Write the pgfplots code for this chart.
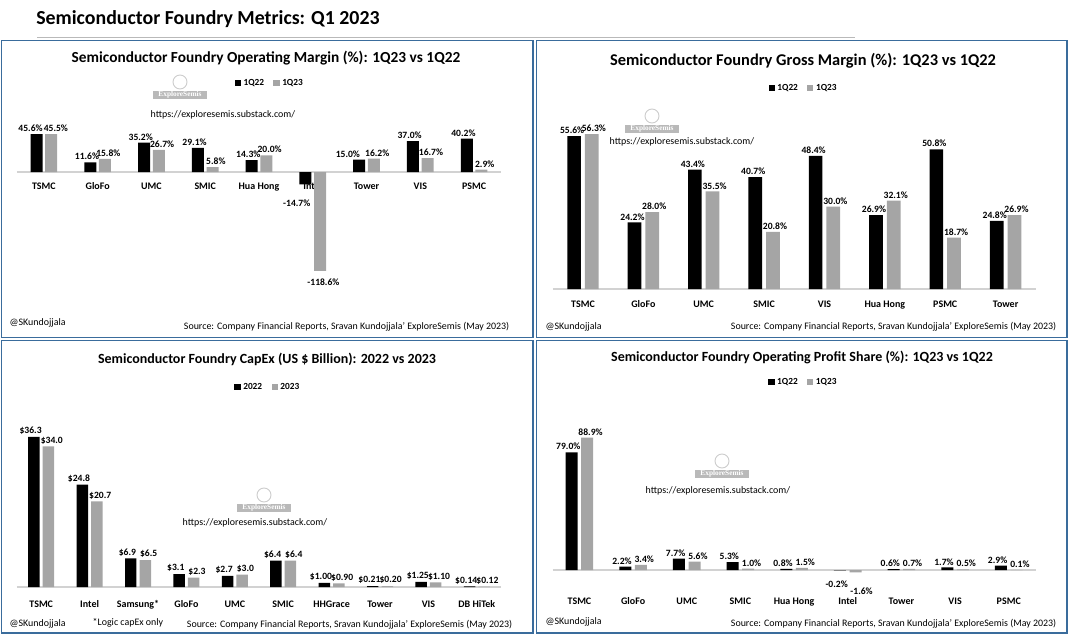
\documentclass[border=0pt]{standalone}
\usepackage{fontspec}
\setmainfont{Carlito}
\newfontfamily\logofont{Liberation Serif}
\usepackage{pgfplots}
\usepackage{pgfplotstable}
\pgfplotsset{compat=1.18}

\definecolor{bargray}{RGB}{165,165,165}
\definecolor{frameblue}{RGB}{58,108,156}

% operating margin 1Q22 / 1Q23
\pgfplotstableread{
x a b
0 45.6 45.5
1 11.6 15.8
2 35.2 26.7
3 29.1 5.8
4 14.3 20.0
5 -14.7 -118.6
6 15.0 16.2
7 37.0 16.7
8 40.2 2.9
}\opmargin

% gross margin
\pgfplotstableread{
x a b
0 55.6 56.3
1 24.2 28.0
2 43.4 35.5
3 40.7 20.8
4 48.4 30.0
5 26.9 32.1
6 50.8 18.7
7 24.8 26.9
}\grossmargin

% capex 2022 / 2023
\pgfplotstableread{
x a b la lb
0 36.3 34.0 36.3 34.0
1 24.8 20.7 24.8 20.7
2 6.9 6.5 6.9 6.5
3 3.1 2.3 3.1 2.3
4 2.7 3.0 2.7 3.0
5 6.4 6.4 6.4 6.4
6 1.00 0.90 1.00 0.90
7 0.21 0.20 0.21 0.20
8 1.25 1.10 1.25 1.10
9 0.14 0.12 0.14 0.12
}\capex

% operating profit share
\pgfplotstableread{
x a b
0 79.0 88.9
1 2.2 3.4
2 7.7 5.6
3 5.3 1.0
4 0.8 1.5
5 -0.2 -1.6
6 0.6 0.7
7 1.7 0.5
8 2.9 0.1
}\profitshare

\pgfplotsset{
  panel/.style={
    scale only axis, clip=false,
    hide y axis,
    axis x line*=bottom,
    x axis line style={-, draw=gray!35, line width=0.8pt},
    xtick style={draw=none},
    major tick length=0pt,
    ymin=0,
    xticklabel style={font=\bfseries\fontsize{7.5}{9}\selectfont, anchor=north,
      text height=5.4pt, text depth=1.6pt},
    /pgf/number format/assume math mode=true,
    nodes near coords style={font=\bfseries\fontsize{7.2}{8}\selectfont, inner sep=1.5pt},
    legend style={draw=none, fill=none, anchor=center, legend columns=-1,
      font=\bfseries\fontsize{7}{8}\selectfont,
      /tikz/every even column/.append style={column sep=5pt}},
  },
  sqlegend/.style={legend image code/.code={\fill[##1] (0pt,-2.3pt) rectangle (4.6pt,2.3pt);}},
  pct/.style={nodes near coords={\pgfmathprintnumber[fixed,fixed zerofill,precision=1]{\pgfplotspointmeta}\%}},
}

\newcommand{\logo}[2]{%
  \draw[gray!40, line width=0.7pt] (#1,-#2+13) circle (7);
  \node[fill=gray!55, text=white, inner sep=0.8pt, minimum width=40pt,
    font=\logofont\bfseries\fontsize{5.5}{6}\selectfont] at (#1,-#2) {ExploreSemis};
}

\begin{document}
\begin{tikzpicture}[x=0.75pt, y=0.75pt]
\useasboundingbox (0,0) rectangle (1069,-635);

% page title
\node[anchor=west, font=\bfseries\fontsize{14.9}{17}\selectfont, inner sep=0] at (36,-19) {Semiconductor Foundry Metrics: Q1 2023};
\draw[gray!55, line width=1.1pt] (37,-37.5) -- (855,-37.5);

% frames
\draw[frameblue, line width=1.1pt] (1.5,-40.5) rectangle (533,-337.5);
\draw[frameblue, line width=1.1pt] (536.5,-40.5) rectangle (1067,-337.5);
\draw[frameblue, line width=1.1pt] (1.5,-340.5) rectangle (533,-633);
\draw[frameblue, line width=1.1pt] (536.5,-340.5) rectangle (1067,-633);

% panel titles
\node[font=\bfseries\fontsize{11.5}{13}\selectfont] at (266,-58) {Semiconductor Foundry Operating Margin (\%): 1Q23 vs 1Q22};
\node[font=\bfseries\fontsize{12.3}{14}\selectfont] at (803,-61) {Semiconductor Foundry Gross Margin (\%): 1Q23 vs 1Q22};
\node[font=\bfseries\fontsize{10.5}{12}\selectfont] at (267,-359) {Semiconductor Foundry CapEx (US \$ Billion): 2022 vs 2023};
\node[font=\bfseries\fontsize{10.5}{12}\selectfont] at (802,-357) {Semiconductor Foundry Operating Profit Share (\%): 1Q23 vs 1Q22};

% watermarks
\logo{180}{95}
\logo{652}{129}
\logo{264}{508}
\logo{722}{474}
\begin{scope}[font=\fontsize{7.45}{9}\selectfont]
\node at (223,-115) {https://exploresemis.substack.com/};
\node at (682,-142) {https://exploresemis.substack.com/};
\node at (255,-523) {https://exploresemis.substack.com/};
\node at (718,-491) {https://exploresemis.substack.com/};
\end{scope}

% footers
\begin{scope}[font=\fontsize{7.45}{9}\selectfont]
\node[anchor=west] at (5,-323) {@SKundojjala};
\node[anchor=east] at (514,-327) {Source: Company Financial Reports, Sravan Kundojjala' ExploreSemis (May 2023)};
\node[anchor=west] at (541,-327) {@SKundojjala};
\node[anchor=east] at (1061,-327) {Source: Company Financial Reports, Sravan Kundojjala' ExploreSemis (May 2023)};
\node[anchor=west] at (5,-624) {@SKundojjala};
\node[anchor=west] at (88,-623) {*Logic capEx only};
\node[anchor=east] at (517,-625) {Source: Company Financial Reports, Sravan Kundojjala' ExploreSemis (May 2023)};
\node[anchor=west] at (541,-622) {@SKundojjala};
\node[anchor=east] at (1061,-624) {Source: Company Financial Reports, Sravan Kundojjala' ExploreSemis (May 2023)};
\end{scope}

% Operating margin
\begin{axis}[panel, pct, at={(12.75pt,-129pt)}, anchor=south west,
  width=363pt, height=37.5pt, ymax=60,
  xmin=-0.5, xmax=8.5, xtick={0,...,8},
  xticklabels={TSMC,GloFo,UMC,SMIC,Hua Hong,Intel,Tower,VIS,PSMC},
  xticklabel style={yshift=-4.5pt},
  ybar=2pt, bar width=9pt, sqlegend,
  legend style={at={(0.523,1.78)}}]
\addplot[fill=black, draw=none, nodes near coords style={xshift=-2.5pt},
  coordinate style/.condition={x==0}{xshift=-2pt},
  coordinate style/.condition={x==5}{yshift=-10pt, xshift=-4pt},
  coordinate style/.condition={x==6}{xshift=-6pt}] table[x=x, y=a]{\opmargin};
\addplot[fill=bargray, draw=none, nodes near coords style={xshift=2.5pt},
  coordinate style/.condition={x==0}{xshift=1pt},
  coordinate style/.condition={x==5}{yshift=-4pt}] table[x=x, y=b]{\opmargin};
\legend{1Q22,1Q23}
\end{axis}

% Gross margin
\begin{axis}[panel, pct, at={(414.6pt,-216.75pt)}, anchor=south west,
  width=362.25pt, height=123.75pt, ymax=60,
  xmin=-0.5, xmax=7.5, xtick={0,...,7},
  xticklabels={TSMC,GloFo,UMC,SMIC,VIS,Hua Hong,PSMC,Tower},
  xticklabel style={yshift=-5pt},
  ybar=3pt, bar width=10.3pt, sqlegend,
  legend style={at={(0.52,1.218)}}]
\addplot[fill=black, draw=none, nodes near coords style={xshift=-1.5pt}] table[x=x, y=a]{\grossmargin};
\addplot[fill=bargray, draw=none, nodes near coords style={xshift=1.5pt}] table[x=x, y=b]{\grossmargin};
\legend{1Q22,1Q23}
\end{axis}

% CapEx
\begin{axis}[panel, at={(12.75pt,-440.25pt)}, anchor=south west,
  width=363pt, height=124pt, ymax=40,
  xmin=-0.5, xmax=9.5, xtick={0,...,9},
  xticklabels={TSMC,Intel,Samsung*,GloFo,UMC,SMIC,HHGrace,Tower,VIS,DB HiTek},
  xticklabel style={yshift=-6.4pt},
  ybar=2.3pt, bar width=8.6pt, sqlegend,
  point meta=explicit symbolic,
  nodes near coords={\$\pgfplotspointmeta},
  legend style={at={(0.519,1.21)}}]
\addplot[fill=black, draw=none, nodes near coords style={xshift=-2.5pt}] table[x=x, y=a, meta=la]{\capex};
\addplot[fill=bargray, draw=none, nodes near coords style={xshift=2.5pt}] table[x=x, y=b, meta=lb]{\capex};
\legend{2022,2023}
\end{axis}

% Operating profit share
\begin{axis}[panel, pct, at={(414.45pt,-427.5pt)}, anchor=south west,
  width=362.25pt, height=106.2pt, ymax=95,
  xmin=-0.5, xmax=8.5, xtick={0,...,8},
  xticklabels={TSMC,GloFo,UMC,SMIC,Hua Hong,Intel,Tower,VIS,PSMC},
  xticklabel style={yshift=-17pt},
  ybar=2.7pt, bar width=9pt, sqlegend,
  legend style={at={(0.52,1.328)}}]
\addplot[fill=black, draw=none, nodes near coords style={xshift=-2.5pt},
  coordinate style/.condition={x==5}{yshift=-6pt}] table[x=x, y=a]{\profitshare};
\addplot[fill=bargray, draw=none, nodes near coords style={xshift=2.5pt},
  coordinate style/.condition={x==5}{yshift=-10pt, xshift=2pt}] table[x=x, y=b]{\profitshare};
\legend{1Q22,1Q23}
\end{axis}
\end{tikzpicture}
\end{document}
